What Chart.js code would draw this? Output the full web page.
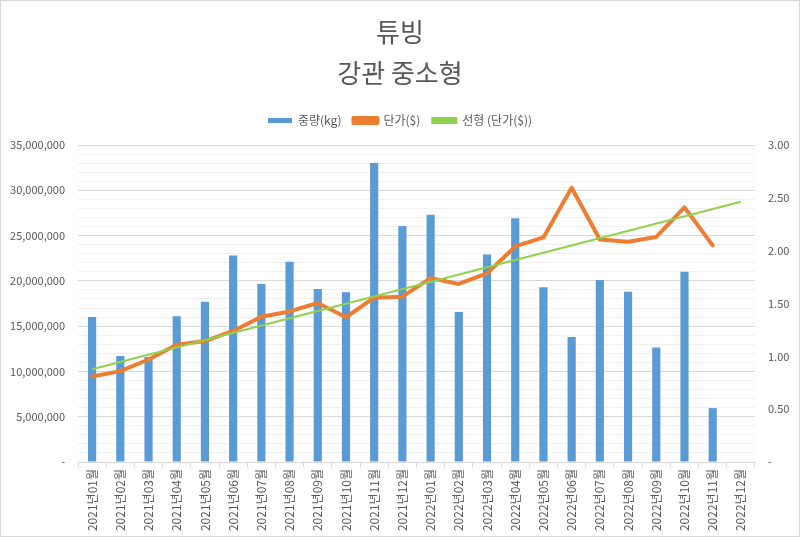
<!DOCTYPE html>
<html>
<head>
<meta charset="utf-8">
<script src="https://cdn.jsdelivr.net/npm/chart.js@4"></script>
<style>
  body { margin: 0; background: #fff; }
  canvas { display: block; }
</style>
</head>
<body>
<canvas id="myChart" width="800" height="537"></canvas>
<script>
// ------------------------------------------------------------
// Data
// ------------------------------------------------------------
const months = [
    '2021년01월', '2021년02월', '2021년03월', '2021년04월', '2021년05월', '2021년06월',
    '2021년07월', '2021년08월', '2021년09월', '2021년10월', '2021년11월', '2021년12월',
    '2022년01월', '2022년02월', '2022년03월', '2022년04월', '2022년05월', '2022년06월',
    '2022년07월', '2022년08월', '2022년09월', '2022년10월', '2022년11월', '2022년12월'
]

// 중량(kg)
const weightKg = [
    16000000, 11700000, 11600000, 16100000, 17700000, 22800000,
    19650000, 22100000, 19100000, 18750000, 33000000, 26050000,
    27300000, 16550000, 22900000, 26900000, 19300000, 13800000,
    20100000, 18800000, 12650000, 21000000, 5950000, null
]

// 단가($)
const unitPrice = [
    0.81, 0.86, 0.97, 1.11, 1.145, 1.24,
    1.375, 1.425, 1.505, 1.37, 1.555, 1.565,
    1.74, 1.685, 1.785, 2.04, 2.125, 2.595,
    2.105, 2.085, 2.13, 2.41, 2.05, null
]

// 선형 (단가($)) - trendline end points
const trendPrice = [
    0.877, null, null, null, null, null,
    null, null, null, null, null, null,
    null, null, null, null, null, null,
    null, null, null, null, null, 2.463
]

const textColor = '#595959'
const fontFamily = "'Noto Sans CJK KR', 'Noto Sans', sans-serif"

// ------------------------------------------------------------
// Plugins
// ------------------------------------------------------------
const chartBorder = {
    id: 'chartBorder',
    beforeDraw(chart) {
        const ctx = chart.ctx
        ctx.save()
        ctx.fillStyle = '#ffffff'
        ctx.fillRect(0, 0, chart.width, chart.height)
        ctx.strokeStyle = '#d9d9d9'
        ctx.lineWidth = 1
        ctx.strokeRect(0.5, 0.5, chart.width - 1, chart.height - 1)
        ctx.restore()
    }
}

// extra space under the legend
const legendGap = {
    id: 'legendGap',
    beforeInit(chart) {
        const fitOrig = chart.legend.fit
        chart.legend.fit = function () {
            fitOrig.bind(chart.legend)()
            this.height += 8.5
        }
    }
}

const data = {
    labels: months,
    datasets: [
        {
            type: 'bar',
            label: '중량(kg)',
            data: weightKg,
            yAxisID: 'y',
            backgroundColor: '#5b9bd5',
            borderColor: '#5b9bd5',
            categoryPercentage: 1,
            barPercentage: 0.29,
            order: 3
        },
        {
            type: 'line',
            label: '단가($)',
            data: unitPrice,
            yAxisID: 'y1',
            borderColor: '#ed7d31',
            backgroundColor: '#ed7d31',
            borderWidth: 4,
            pointRadius: 0,
            borderJoinStyle: 'round',
            borderCapStyle: 'round',
            tension: 0,
            order: 2
        },
        {
            type: 'line',
            label: '선형 (단가($))',
            data: trendPrice,
            yAxisID: 'y1',
            borderColor: '#92d050',
            backgroundColor: '#92d050',
            borderWidth: 2,
            pointRadius: 0,
            spanGaps: true,
            order: 1
        }
    ]
}

const config = {
    data: data,
    options: {
        responsive: false,
        animation: false,
        layout: { padding: 0 },
        plugins: {
            title: {
                display: true,
                text: ['튜빙', '강관 중소형'],
                color: textColor,
                font: { family: fontFamily, size: 26, weight: 'normal', lineHeight: 1.577 },
                padding: { top: 12, bottom: 8.5 }
            },
            legend: {
                position: 'top',
                reverse: true,
                labels: {
                    color: textColor,
                    font: { family: fontFamily, size: 12 },
                    boxWidth: 24,
                    boxHeight: 5,
                    padding: 12
                }
            },
            tooltip: { enabled: false }
        },
        scales: {
            x: {
                offset: true,
                grid: {
                    offset: true,
                    drawOnChartArea: false,
                    drawTicks: true,
                    tickLength: 5,
                    color: '#d9d9d9'
                },
                border: { color: '#d9d9d9' },
                ticks: {
                    color: textColor,
                    font: { family: fontFamily, size: 12 },
                    minRotation: 90,
                    maxRotation: 90,
                    autoSkip: false,
                    padding: 2
                },
                afterFit(scale) { scale.height = 75 }
            },
            y: {
                position: 'left',
                min: 0,
                max: 35000000,
                border: { display: false },
                grid: {
                    drawTicks: false,
                    color: (c) => (c.tick && c.tick.value % 5000000 === 0) ? '#d9d9d9' : '#f0f0f0'
                },
                ticks: {
                    stepSize: 1000000,
                    autoSkip: false,
                    color: textColor,
                    font: { family: fontFamily, size: 11 },
                    padding: 13,
                    callback: (v) => {
                        if (v === 0) return '-'
                        if (v % 5000000 !== 0) return ''
                        return v.toLocaleString('en-US')
                    }
                },
                afterFit(scale) { scale.width = 78 }
            },
            y1: {
                position: 'right',
                min: 0,
                max: 3,
                border: { display: false },
                grid: { display: false, drawTicks: false },
                ticks: {
                    stepSize: 0.5,
                    color: textColor,
                    font: { family: fontFamily, size: 11 },
                    padding: 13,
                    callback: (v) => v === 0 ? '-' : v.toFixed(2)
                },
                afterFit(scale) { scale.width = 45 }
            }
        }
    },
    plugins: [chartBorder, legendGap]
}

const myChart = new Chart(
    document.getElementById('myChart'),
    config
)
</script>
</body>
</html>
